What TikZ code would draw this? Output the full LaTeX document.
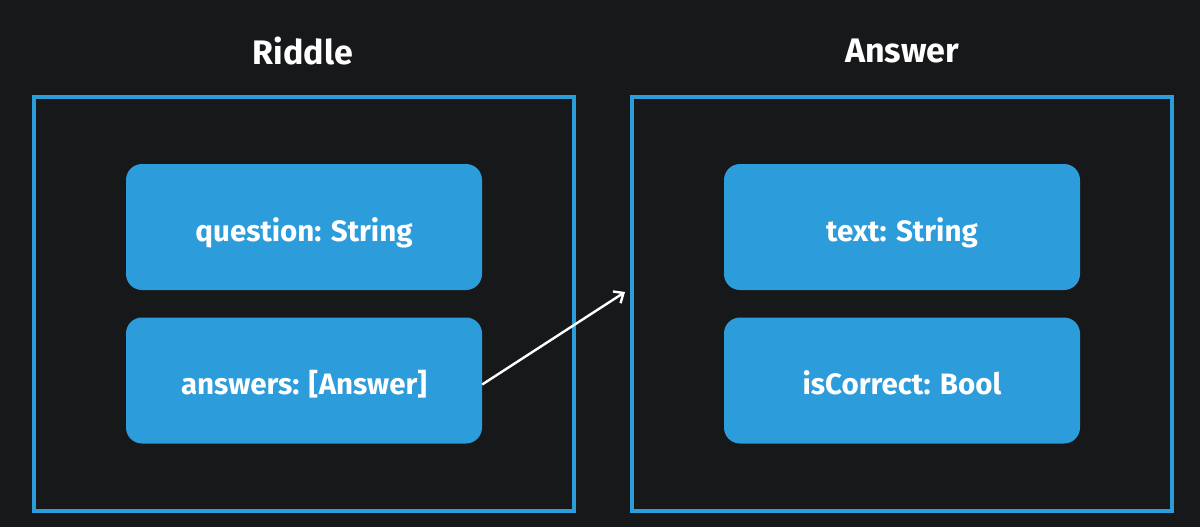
\documentclass[tikz,border=0pt]{standalone}
\usepackage{xcolor}
\usepackage{fontspec}
\setmainfont{Fira Sans}
\usepackage{tikz}
\usetikzlibrary{calc,arrows.meta}

\definecolor{bgdark}{HTML}{17181A}
\definecolor{fieldblue}{HTML}{2D9CDB}

\begin{document}
\begin{tikzpicture}[x=1pt,y=-1pt,
							frame/.style={draw=fieldblue,line width=3.2pt},
							field/.style={rectangle,fill=fieldblue,rounded corners=16pt,
								minimum width=356pt,minimum height=126pt,inner sep=0pt,
								text height=28pt,text depth=0pt,
								text=white,font=\fontsize{29.5}{33}\selectfont\bfseries},
							title/.style={text=white,font=\fontsize{34}{38}\selectfont\bfseries}]
			\fill[bgdark] (0,0) rectangle (1200,527);
			\useasboundingbox (0,0) rectangle (1200,527);
			% Riddle
			\node[title] (riddle) at (303,51) {Riddle};
			\draw[frame] (34,97) rectangle (574,511);
			\node[field] (question) at (304,227) {question: String};
			\node[field] (answers) at (304,380.5) {answers: [Answer]};
			% Answer
			\node[title] (answer) at (902,51) {Answer};
			\draw[frame] (632,97) rectangle (1172,511);
			\node[field] (text) at (902,227) {text: String};
			\node[field] (iscorrect) at (902,380.5) {isCorrect: Bool};
			% link
			\coordinate (target) at (625,292);
			\draw[white,line width=2.4pt,-{Straight Barb[length=8pt,width=14pt]}]
				($(answers.east)+(0,4)$) -- (target);
		\end{tikzpicture}
\end{document}
